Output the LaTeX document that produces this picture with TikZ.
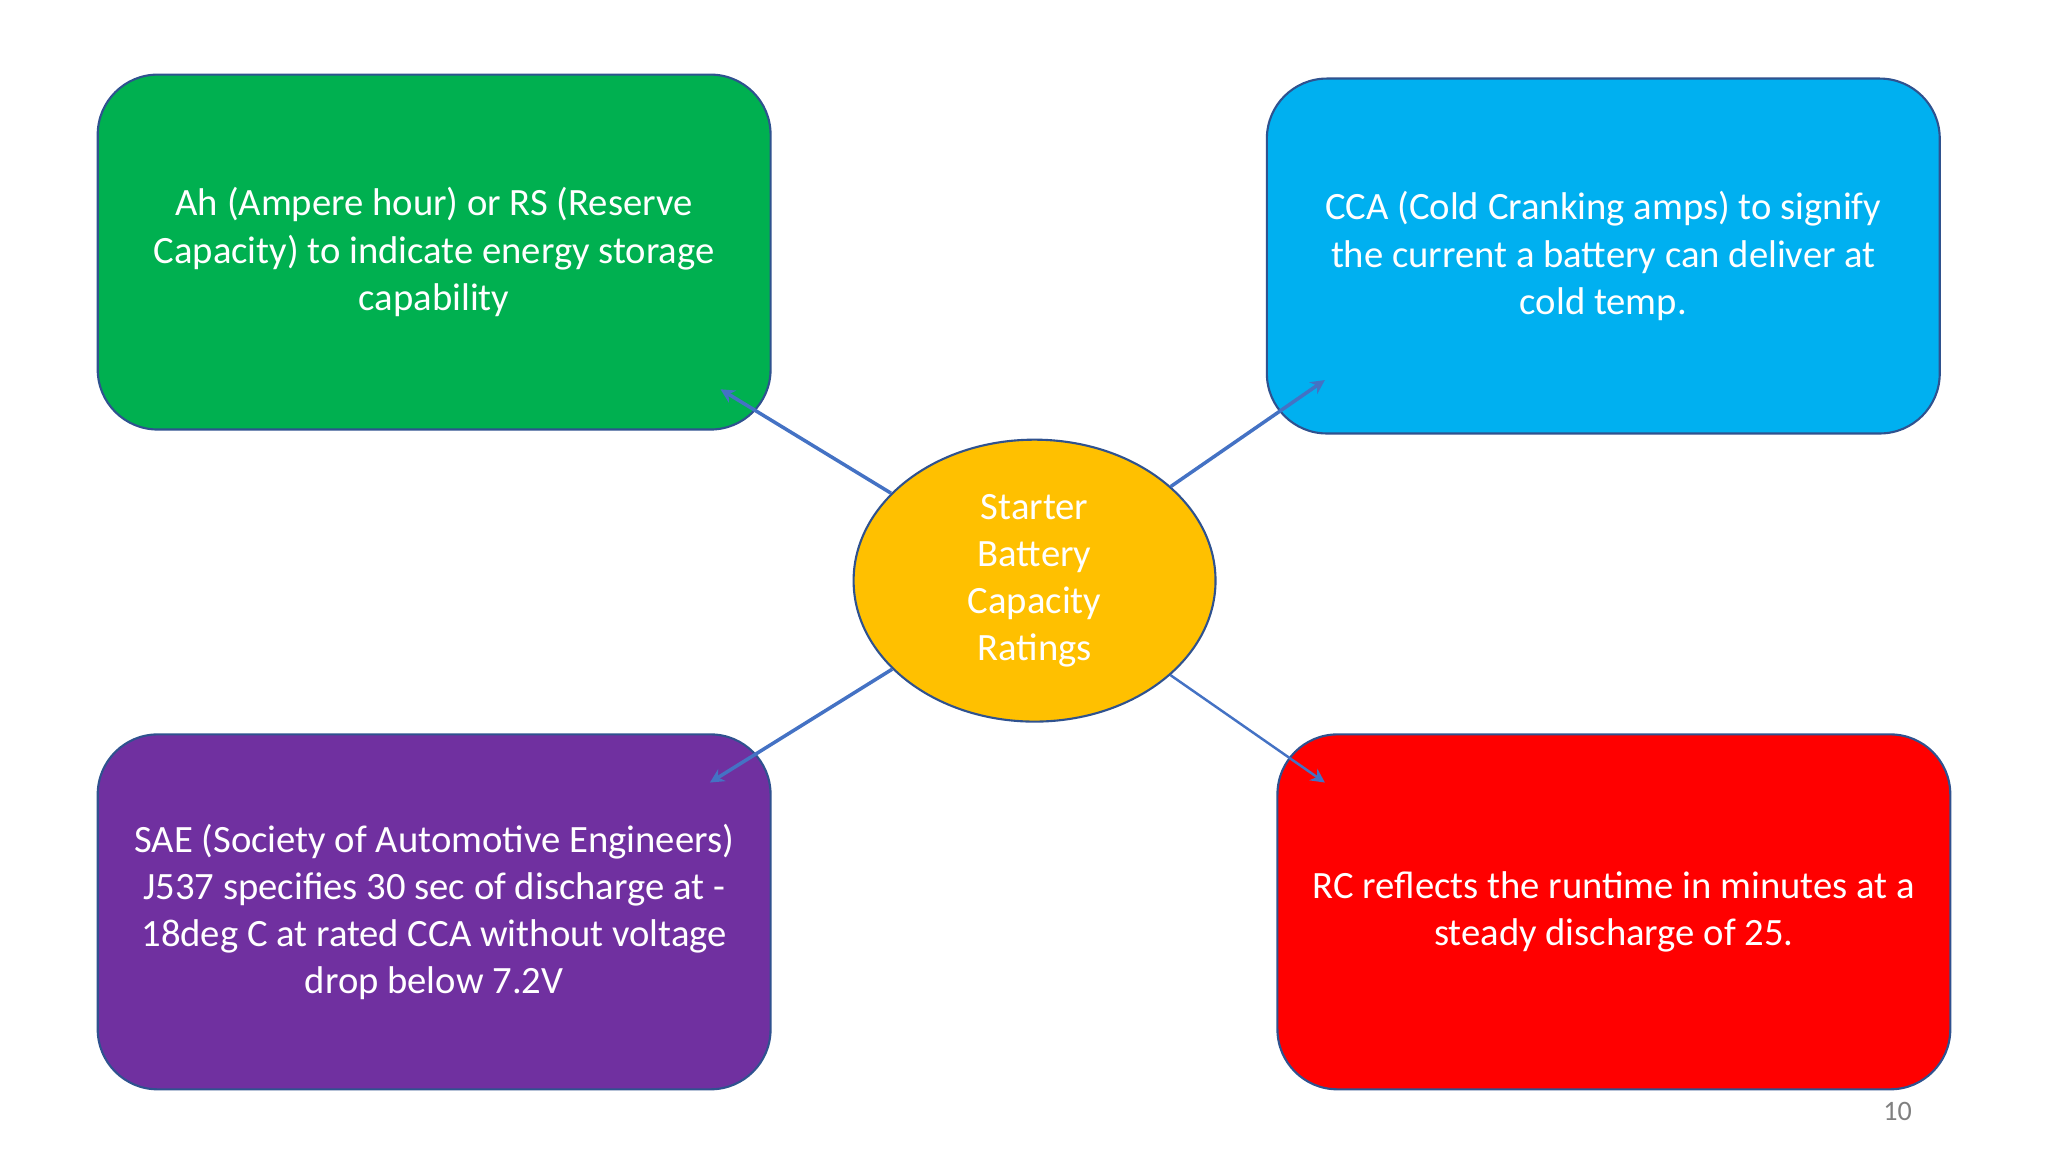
\documentclass[tikz,border=0pt]{standalone}
\usepackage{fontspec}
\setmainfont{Carlito}
\usetikzlibrary{shapes.geometric, arrows.meta}
\definecolor{boxline}{HTML}{2F528F}
\definecolor{arr}{HTML}{4472C4}
\definecolor{cgreen}{HTML}{00B050}
\definecolor{cblue}{HTML}{00B0F0}
\definecolor{cpurple}{HTML}{7030A0}
\definecolor{cgold}{HTML}{FFC000}
\begin{document}
\begin{tikzpicture}[x=0.013196cm, y=-0.013196cm,
    box/.style={rectangle, rounded corners=0.6cm, draw=boxline, line width=0.6pt,
      minimum width=6.73cm, minimum height=3.55cm, align=center, text=white,
      font=\fontsize{11pt}{13.4pt}\selectfont},
    arrow/.style={-{Stealth[length=4pt,width=4pt]}, draw=arr, line width=1pt}
]
    \useasboundingbox (0,0) rectangle (1552,873);
    \node[box, fill=cgreen] (ah) at (329,191) {Ah (Ampere hour) or RS (Reserve\\Capacity) to indicate energy storage\\capability};
    \node[box, fill=cblue] (cca) at (1215,194) {CCA (Cold Cranking amps) to signify\\the current a battery can deliver at\\cold temp.};
    \node[box, fill=cpurple] (sae) at (329,691) {SAE (Society of Automotive Engineers)\\J537 specifies 30 sec of discharge at -\\18deg C at rated CCA without voltage\\drop below 7.2V};
    \node[box, fill=red] (rc) at (1223,691) {RC reflects the runtime in minutes at a\\steady discharge of 25.};
    \node[ellipse, draw=boxline, line width=0.6pt, fill=cgold, minimum width=3.62cm,
      minimum height=2.82cm, align=center, text=white,
      font=\fontsize{11pt}{13.4pt}\selectfont] (c) at (784,440) {Starter\\Battery\\Capacity\\Ratings};
    \coordinate (ahend) at (546,295);
    \coordinate (ccaend) at (1004,288);
    \coordinate (saeend) at (538,593);
    \coordinate (rcend) at (1004,593);
    \draw[arrow] (c) -- (ahend);
    \draw[arrow] (c) -- (ccaend);
    \draw[arrow] (c) -- (saeend);
    \draw[arrow, line width=0.7pt] (c) -- (rcend);
    \node[text=gray, font=\fontsize{8pt}{9pt}\selectfont] (pg) at (1438,842) {10};
\end{tikzpicture}
\end{document}
